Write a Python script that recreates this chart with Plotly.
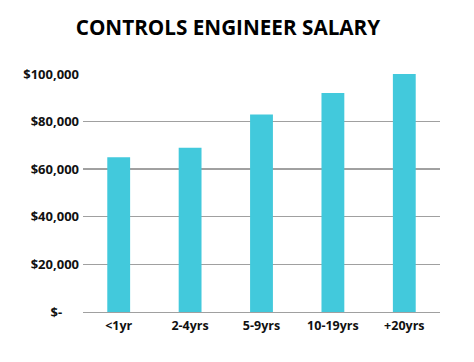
import plotly.graph_objects as go

categories = ["<1yr", "2-4yrs", "5-9yrs", "10-19yrs", "+20yrs"]
salaries = [65000, 69000, 83000, 92000, 100000]
tick_values = [0, 20000, 40000, 60000, 80000, 100000]
tick_labels = ["$-\u00a0\u00a0\u00a0\u00a0\u00a0", "$20,000", "$40,000", "$60,000", "$80,000", "$100,000"]

fig = go.Figure(
    go.Bar(
        x=categories,
        y=salaries,
        marker=dict(color="#42C9DC", line=dict(width=0)),
        width=0.32,
    )
)

fig.update_layout(
    width=466,
    height=354,
    margin=dict(l=75, r=34, t=66, b=50),
    paper_bgcolor="white",
    plot_bgcolor="white",
    font=dict(family="Open Sans", color="#111111"),
    title=dict(
        text="<b>CONTROLS ENGINEER SALARY</b>",
        x=0.472,
        xanchor="center",
        y=0.943,
        yanchor="middle",
        font=dict(size=20.7, color="#000000", family="Open Sans"),
    ),
    showlegend=False,
)

fig.update_yaxes(
    range=[0, 100000],
    tickvals=tick_values,
    ticktext=[f"<b>{t}</b>" for t in tick_labels],
    tickfont=dict(size=13, color="#111111"),
    showgrid=True,
    gridcolor="#A0A0A0",
    gridwidth=1.3,
    zeroline=False,
    showline=False,
    ticks="",
    ticklabelstandoff=3,
    automargin=False,
)

fig.update_xaxes(
    tickfont=dict(size=12.5, color="#111111"),
    ticktext=[f"<b>{c}</b>" for c in categories],
    tickvals=categories,
    showline=True,
    linecolor="#A0A0A0",
    linewidth=1.3,
    showgrid=False,
    ticks="",
    ticklabelstandoff=2,
    automargin=False,
)

fig.add_hline(y=60000, line=dict(color="#444444", width=1.3), layer="below")

fig.write_html("out.html")
